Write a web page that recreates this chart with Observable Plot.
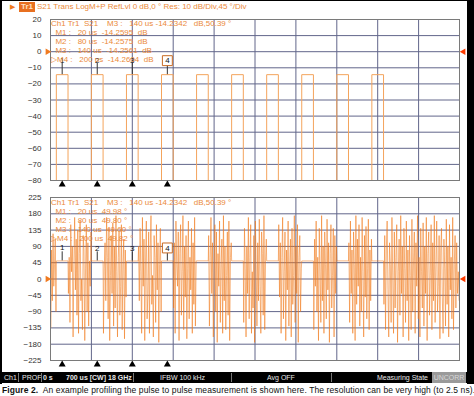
<!DOCTYPE html>
<html><head><meta charset="utf-8">
<script src="https://cdn.jsdelivr.net/npm/d3@7"></script>
<script src="https://cdn.jsdelivr.net/npm/@observablehq/plot@0.6"></script>
<style>
html,body{margin:0;padding:0;background:#fff;}
#root{position:relative;width:474px;height:396px;overflow:hidden;background:#fff;font-family:"Liberation Sans",Arial,sans-serif;}
.abs{position:absolute;white-space:pre;line-height:1;}
.ro{position:absolute;white-space:pre;line-height:1;font-size:8px;color:#eb8a3a;}
.sb{position:absolute;top:0;height:11px;line-height:11px;font-size:7px;color:#e6e6e6;white-space:pre;}
.sep{position:absolute;top:1px;width:1px;height:9px;background:#777;}
</style></head><body><div id="root"></div>
<script>
// ---------- data ----------
const timeTicks = [0, 70, 140, 210, 280, 350, 420, 490, 560, 630, 700];
const magTicks = [20, 10, 0, -10, -20, -30, -40, -50, -60, -70, -80];
const phaseTicks = [225, 180, 135, 90, 45, 0, -45, -90, -135, -180, -225];
const pulseStart = [10, 70, 130, 190, 250, 310, 370, 430, 490, 550];
const pulseEnd = [30, 90, 150, 210, 270, 330, 390, 450, 510, 570];
const pulseMag = [-14.2595, -14.2575, -14.2561, -14.2604, -14.26, -14.26, -14.26, -14.26, -14.26, -14.26];
const pulsePhase = [49.98, 49.80, 49.60, 49.82, 50.1, 49.9, 50.0, 49.8, 50.0, 49.9];
const offMag = -100; // below the display floor between pulses
const markerNames = ["1", "2", "3", "4"];
const markerTimes = [20, 80, 140, 200];
const markerMag = [-14.2595, -14.2575, -14.2561, -14.2604];
const markerPhase = [49.98, 49.80, 49.60, 49.82];
const refLevel = [0];
// phase readings (deg) while the pulse is off, one list per gap
const noise0 = [-135, 80, -60, 125, -20, 40, 110, -90];
const noise1 = [-40, 60, -120, 150, 20, 90, -160, 40, 170, -30, 110, -100, 135, -150, 70, 160, -60, 0, -140, 120, 80, -170, 30, 150, -90, 100, -130, 50, -20, 130];
const noise2 = [-150, 30, 100, -60, 170, 60, -110, 140, -170, 10, 120, -40, 155, -130, 90, -80, 175, 20, -160, 60, 130, -100, -20, 150, -140, 40, 110, -165, 80, -50];
const noise3 = [90, -60, 140, 20, -150, 170, -20, 110, -170, 50, 160, -110, -40, 130, -150, 80, 175, -70, 10, -160, 120, 60, -120, 150, -30, 100, -175, 40, 140, -90];
const noise4 = [-80, 100, -150, 160, 40, -20, 130, -170, 70, 150, -100, 20, 175, -140, 90, -50, 120, -165, 30, 160, -110, 60, -30, 140, -150, 100, -70, 170, -130, 50];
const noise5 = [120, -130, 60, 170, -40, 100, -160, 20, 150, -90, 130, -175, 70, -20, 160, -120, 40, 110, -150, 175, -60, 90, -140, 10, 130, -100, 160, -170, 60, 100];
const noise6 = [-120, 140, 30, -160, 90, -40, 170, -110, 60, 150, -150, 20, -80, 120, -175, 160, 40, -130, 100, -60, 165, -20, -150, 130, 70, -100, 175, -140, 50, 110];
const noise7 = [150, -50, 100, -150, 60, 170, -110, 20, 130, -170, 80, -30, 160, -130, 40, 110, -160, 140, -70, 10, 175, -120, 90, -40, 150, -175, 60, 120, -90, 30];
const noise8 = [-140, 110, -20, 160, -90, 60, -170, 140, 20, -120, 175, -60, 90, -150, 130, 40, -110, 165, -30, 100, -175, 70, 150, -80, 10, 140, -160, 120, -40, 90];
const noise9 = [100, -120, 160, -40, 80, -150, 130, 40, -170, 175, -70, 110, -20, 150, -130, 60, -90, 170, 20, -160, 120, -50, 145, -110, 30, 165, -140, 80, -60, 110];
const noise10 = [-70, 120, -140, 80, 160, -30, -160, 100, 40, -120, 170, 0, -150, 130, -80, 60, 150, -175, 20, 110, -100, 175, -40, 90, -160, 140, 30, -120, 160, -60, 80, -170, 120, 10, -140, 165, -90, 50, 130, -150, 100, -20, 175, -110, 60, -160, 140, 20, -80, 155, -130, 90, -40, 170, -170, 70, 130, -100, 10, 150, -140, 100, -60, 175, -120, 40, 160, -90, -20, 120, -165, 80, 140, -50, -150, 110, 30, -130, 165, -70, 90, -160, 150, -30, 60, -110, 170, -140, 40, 120, -80, 100, -40, 20, -60];
const titleText = "S21 Trans LogM+P RefLvl 0 dB,0 \u00b0 Res: 10 dB/Div,45 \u00b0/Div";
const headerText = "Ch1 Tr1  S21    M3 :   140 us -14.2342   dB,50.39 \u00b0";
const captionBold = "Figure 2.";
const captionText = "  An example profiling the pulse to pulse measurement is shown here. The resolution can be very high (to 2.5 ns).";

// ---------- derived tables ----------
const noiseGaps = [noise0, noise1, noise2, noise3, noise4, noise5, noise6, noise7, noise8, noise9, noise10];
const gapStarts = [timeTicks[0], ...pulseEnd];
const gapEnds = [...pulseStart, timeTicks[timeTicks.length - 1]];
const magLine = [{t: timeTicks[0], v: offMag}];
pulseStart.forEach((s, i) => {
  magLine.push({t: s, v: offMag}, {t: s, v: pulseMag[i]}, {t: pulseEnd[i], v: pulseMag[i]}, {t: pulseEnd[i], v: offMag});
});
magLine.push({t: timeTicks[timeTicks.length - 1], v: offMag});
const phaseLine = [];
noiseGaps.forEach((vals, g) => {
  const a = gapStarts[g], b = gapEnds[g];
  vals.forEach((v, i) => phaseLine.push({t: a + (i + 0.5) * (b - a) / vals.length, v}));
  if (g < pulseStart.length) phaseLine.push({t: pulseStart[g], v: pulsePhase[g]}, {t: pulseEnd[g], v: pulsePhase[g]});
});
const phaseSegs = phaseLine.slice(1).map((d, i) => ({x1: phaseLine[i].t, y1: phaseLine[i].v, x2: d.t, y2: d.v}));
const markers = markerNames.map((n, i) => ({name: n, t: markerTimes[i], mag: markerMag[i], ph: markerPhase[i]}));
const fmtMag = v => v.toFixed(4);
const fmtPh = v => v.toFixed(2);

// ---------- layout ----------
const root = document.getElementById("root");
const gridColor = "#62668a";
const traceLight = "#f4a45c";
const textOrange = "#eb8a3a";
const W = 467;

function panel(ticks, top, height, mT, mB, traceMarks, key, labDy, ruleLen) {
  const svg = Plot.plot({
    width: W, height, marginLeft: 50, marginRight: W - 459, marginTop: mT, marginBottom: mB,
    style: {background: "transparent", fontFamily: "Liberation Sans, Arial, sans-serif", fontSize: "8px", color: "#333"},
    x: {domain: [timeTicks[0], timeTicks[timeTicks.length - 1]], axis: null},
    y: {domain: [ticks[ticks.length - 1], ticks[0]], axis: null},
    marks: [
      Plot.gridX(timeTicks, {stroke: gridColor, strokeOpacity: 1, strokeWidth: 1}),
      Plot.gridY(ticks, {stroke: gridColor, strokeOpacity: 1, strokeWidth: 1}),
      Plot.axisY(ticks, {tickSize: 0, tickPadding: 9, fill: "#333", fontSize: 8}),
      ...traceMarks,
      Plot.frame({stroke: "#7a7a7a"}),
      Plot.ruleX(markers, {x: "t", y1: key, y2: d => d[key] + ruleLen, stroke: "#333", strokeWidth: 1}),
      Plot.dot(markers.filter(d => d.name === "4"), {x: "t", y: key, dy: labDy, symbol: "square", r: 5.6, stroke: "#c86a22", fill: "#fff", strokeWidth: 1}),
      Plot.text(markers, {x: "t", y: key, text: "name", dy: labDy, fill: "#111", fontSize: 8}),
      Plot.dot(markers, {x: "t", frameAnchor: "bottom", dy: 4, symbol: "triangle", r: 2.6, fill: "#000", stroke: "none"}),
      Plot.dot(refLevel, {y: d => d, frameAnchor: "left", dx: -3, symbol: "triangle", rotate: 90, r: 2.4, fill: "#f07a20", stroke: "none"}),
      Plot.dot(refLevel, {y: d => d, frameAnchor: "right", dx: 4, symbol: "triangle", rotate: -90, r: 2.4, fill: "#ff3c00", stroke: "none"})
    ]
  });
  svg.style.position = "absolute";
  svg.style.left = "0px";
  svg.style.top = top + "px";
  root.appendChild(svg);
}

panel(magTicks, 0, 190, 19, 10, [
  Plot.line(magLine, {x: "t", y: "v", stroke: traceLight, strokeWidth: 1, clip: true})
], "mag", -14, 7);

panel(phaseTicks, 190, 180, 7, 10, [
  Plot.link(phaseSegs, {x1: "x1", y1: "y1", x2: "x2", y2: "y2", stroke: "#f07818", strokeOpacity: 0.55, strokeWidth: 1, clip: true})
], "ph", -13, 25);

function addDiv(cls, text, x, y, extra) {
  const d = document.createElement("div");
  d.className = cls;
  d.textContent = text;
  d.style.left = x + "px";
  d.style.top = y + "px";
  if (extra) Object.assign(d.style, extra);
  root.appendChild(d);
  return d;
}

// marker readouts
function readout(y0, rows) {
  addDiv("ro", headerText, 51, y0);
  rows.forEach((r, i) => addDiv("ro", r, 51, y0 + 9 * (i + 1)));
}
readout(20, markers.map((m, i) => (i === 3 ? "\u25b7" : "  ") + "M" + m.name + " :   " + m.t + " us  " + fmtMag(m.mag) + "  dB"));
readout(199, markers.map((m, i) => (i === 3 ? "\u25b7" : "  ") + "M" + m.name + " :   " + m.t + " us  " + fmtPh(m.ph) + " \u00b0"));

// title
addDiv("abs", "\u25b6", 10, 3, {fontSize: "7px", color: "#f07a20"});
addDiv("abs", "Tr1", 19, 2, {fontSize: "8px", color: "#ffe0c0", background: "#e87020", padding: "1px 2px", fontWeight: "bold"});
addDiv("abs", titleText, 37, 3, {fontSize: "8px", color: textOrange});

// frame strips
addDiv("abs", "", 0, 0, {width: "474px", height: "1px", background: "#000"});
addDiv("abs", "", 0, 0, {width: "2px", height: "384px", background: "#000"});
addDiv("abs", "", 467, 0, {width: "7px", height: "384px", background: "#000"});

// status bar
const bar = addDiv("abs", "", 0, 372, {width: "474px", height: "11px", background: "#000"});
const sbItems = [["Ch1", 4], ["PROF", 22], ["0 s", 43], ["700 us [CW] 18 GHz", 66], ["IFBW 100 kHz", 160], ["Avg OFF", 267], ["Measuring State", 377]];
sbItems.forEach(([t, x], i) => {
  const d = document.createElement("div");
  d.className = "sb"; d.textContent = t; d.style.left = x + "px";
  if (i === 2 || i === 3) d.style.fontWeight = "bold";
  bar.appendChild(d);
});
[18, 41, 133, 231, 331].forEach(x => { const s = document.createElement("div"); s.className = "sep"; s.style.left = x + "px"; bar.appendChild(s); });
const unc = document.createElement("div");
unc.className = "sb"; unc.textContent = "UNCORR";
Object.assign(unc.style, {left: "432px", width: "34px", background: "#9a9a9a", color: "#d8d8d8", textAlign: "center"});
bar.appendChild(unc);

// caption
const cap = addDiv("abs", "", 2, 386, {fontSize: "8.5px", letterSpacing: "0.1px", color: "#111", width: "472px", overflow: "hidden"});
const b = document.createElement("b"); b.textContent = captionBold; cap.appendChild(b);
cap.appendChild(document.createTextNode(captionText));
</script></body></html>
